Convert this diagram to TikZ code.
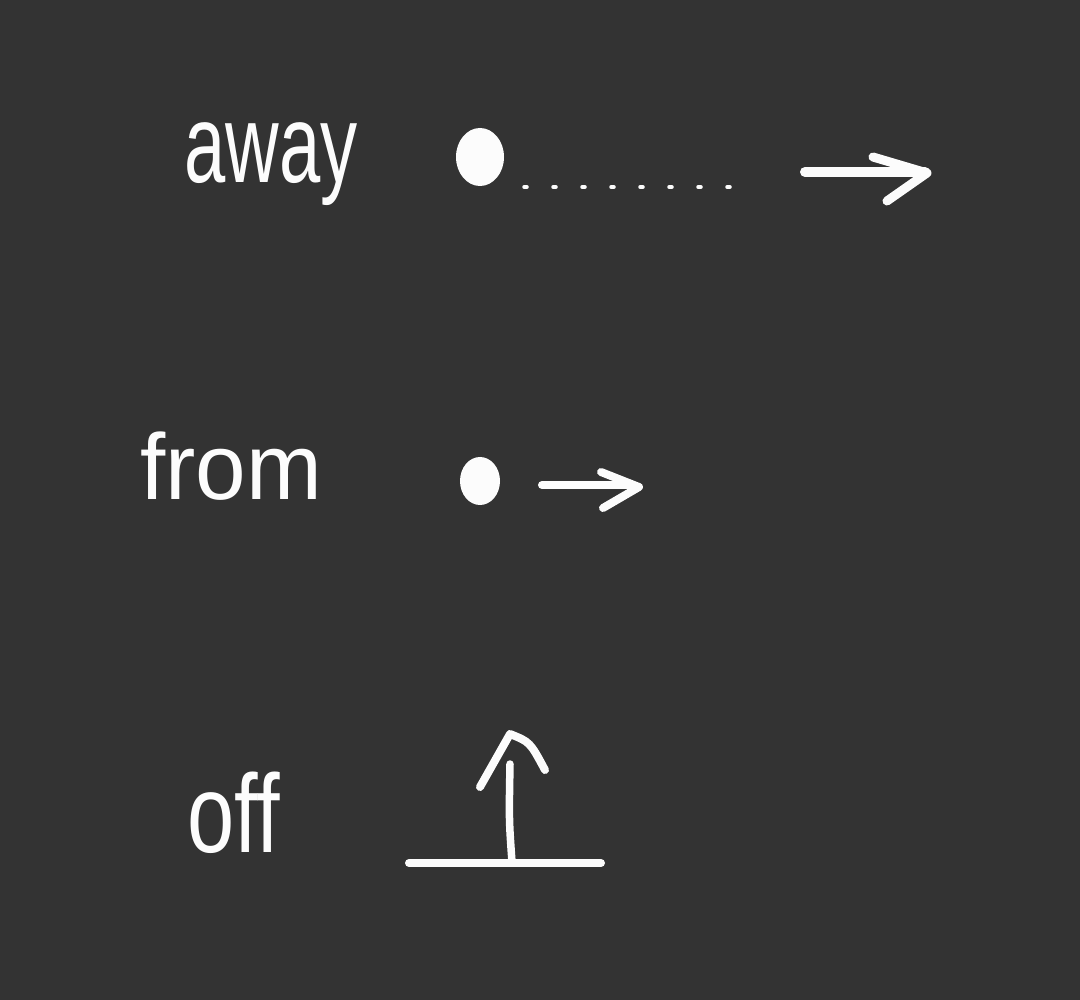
\documentclass[tikz,border=0pt]{standalone}
\usepackage{fontspec}
\usetikzlibrary{shapes.geometric}
\setmainfont{Liberation Sans}
\definecolor{bg}{HTML}{333333}
\definecolor{ink}{HTML}{FCFCFC}
\begin{document}
\begin{tikzpicture}[x=1pt,y=-1pt,
  word/.style={text=ink, inner sep=0pt, anchor=base},
  dotmark/.style={fill=ink, draw=none, ellipse, inner sep=0pt},
  pen/.style={draw=ink, line cap=round, line join=round},
]
\fill[bg] (0,0) rectangle (1080,1000);
\useasboundingbox (0,0) rectangle (1080,1000);

% words
\node[word, xscale=0.70, yscale=1.05, font=\fontsize{106}{110}\selectfont] (away) at (271,183) {away};
\node[word, xscale=1.07, yscale=1.1, font=\fontsize{85}{90}\selectfont] (from) at (231,499) {from};
\node[word, xscale=0.80, yscale=1.05, font=\fontsize{106}{110}\selectfont] (off) at (234,852) {off};

% row 1: dot, dotted trail, arrow
\node[dotmark, minimum width=48pt, minimum height=58pt] (d1) at (480,157) {};
\coordinate (t1s) at (524,187);
\coordinate (t1e) at (740,187);
\draw[pen, line width=3.5, dash pattern=on 3pt off 26pt] (t1s) -- (t1e);
\coordinate (a1s) at (805,172);
\coordinate (a1e) at (925,172);
\coordinate (h1a) at (873,157);
\coordinate (h1t) at (927,173);
\coordinate (h1b) at (887,201);
\draw[pen, line width=10] (a1s) -- (a1e);
\draw[pen, line width=9] (h1a) -- (h1t) -- (h1b);

% row 2: dot and arrow
\node[dotmark, minimum width=40pt, minimum height=48pt] (d2) at (480,481) {};
\coordinate (a2s) at (542,485);
\coordinate (a2e) at (632,485);
\coordinate (h2a) at (601,472);
\coordinate (h2t) at (639,487);
\coordinate (h2b) at (603,508);
\draw[pen, line width=8] (a2s) -- (a2e);
\draw[pen, line width=8] (h2a) -- (h2t) -- (h2b);

% row 3: ground line and upward arrow
\coordinate (g1) at (409,863);
\coordinate (g2) at (601,863);
\coordinate (u1) at (512,862);
\coordinate (u2) at (510,764);
\coordinate (uh1) at (480,787);
\coordinate (uht) at (510,734);
\coordinate (uh2) at (545,770);
\draw[pen, line width=8] (g1) -- (g2);
\draw[pen, line width=7.5] (u1) .. controls (509,820) .. (u2);
\draw[pen, line width=8] (uh1) -- (uht) .. controls (530,742) .. (uh2);
\end{tikzpicture}
\end{document}
